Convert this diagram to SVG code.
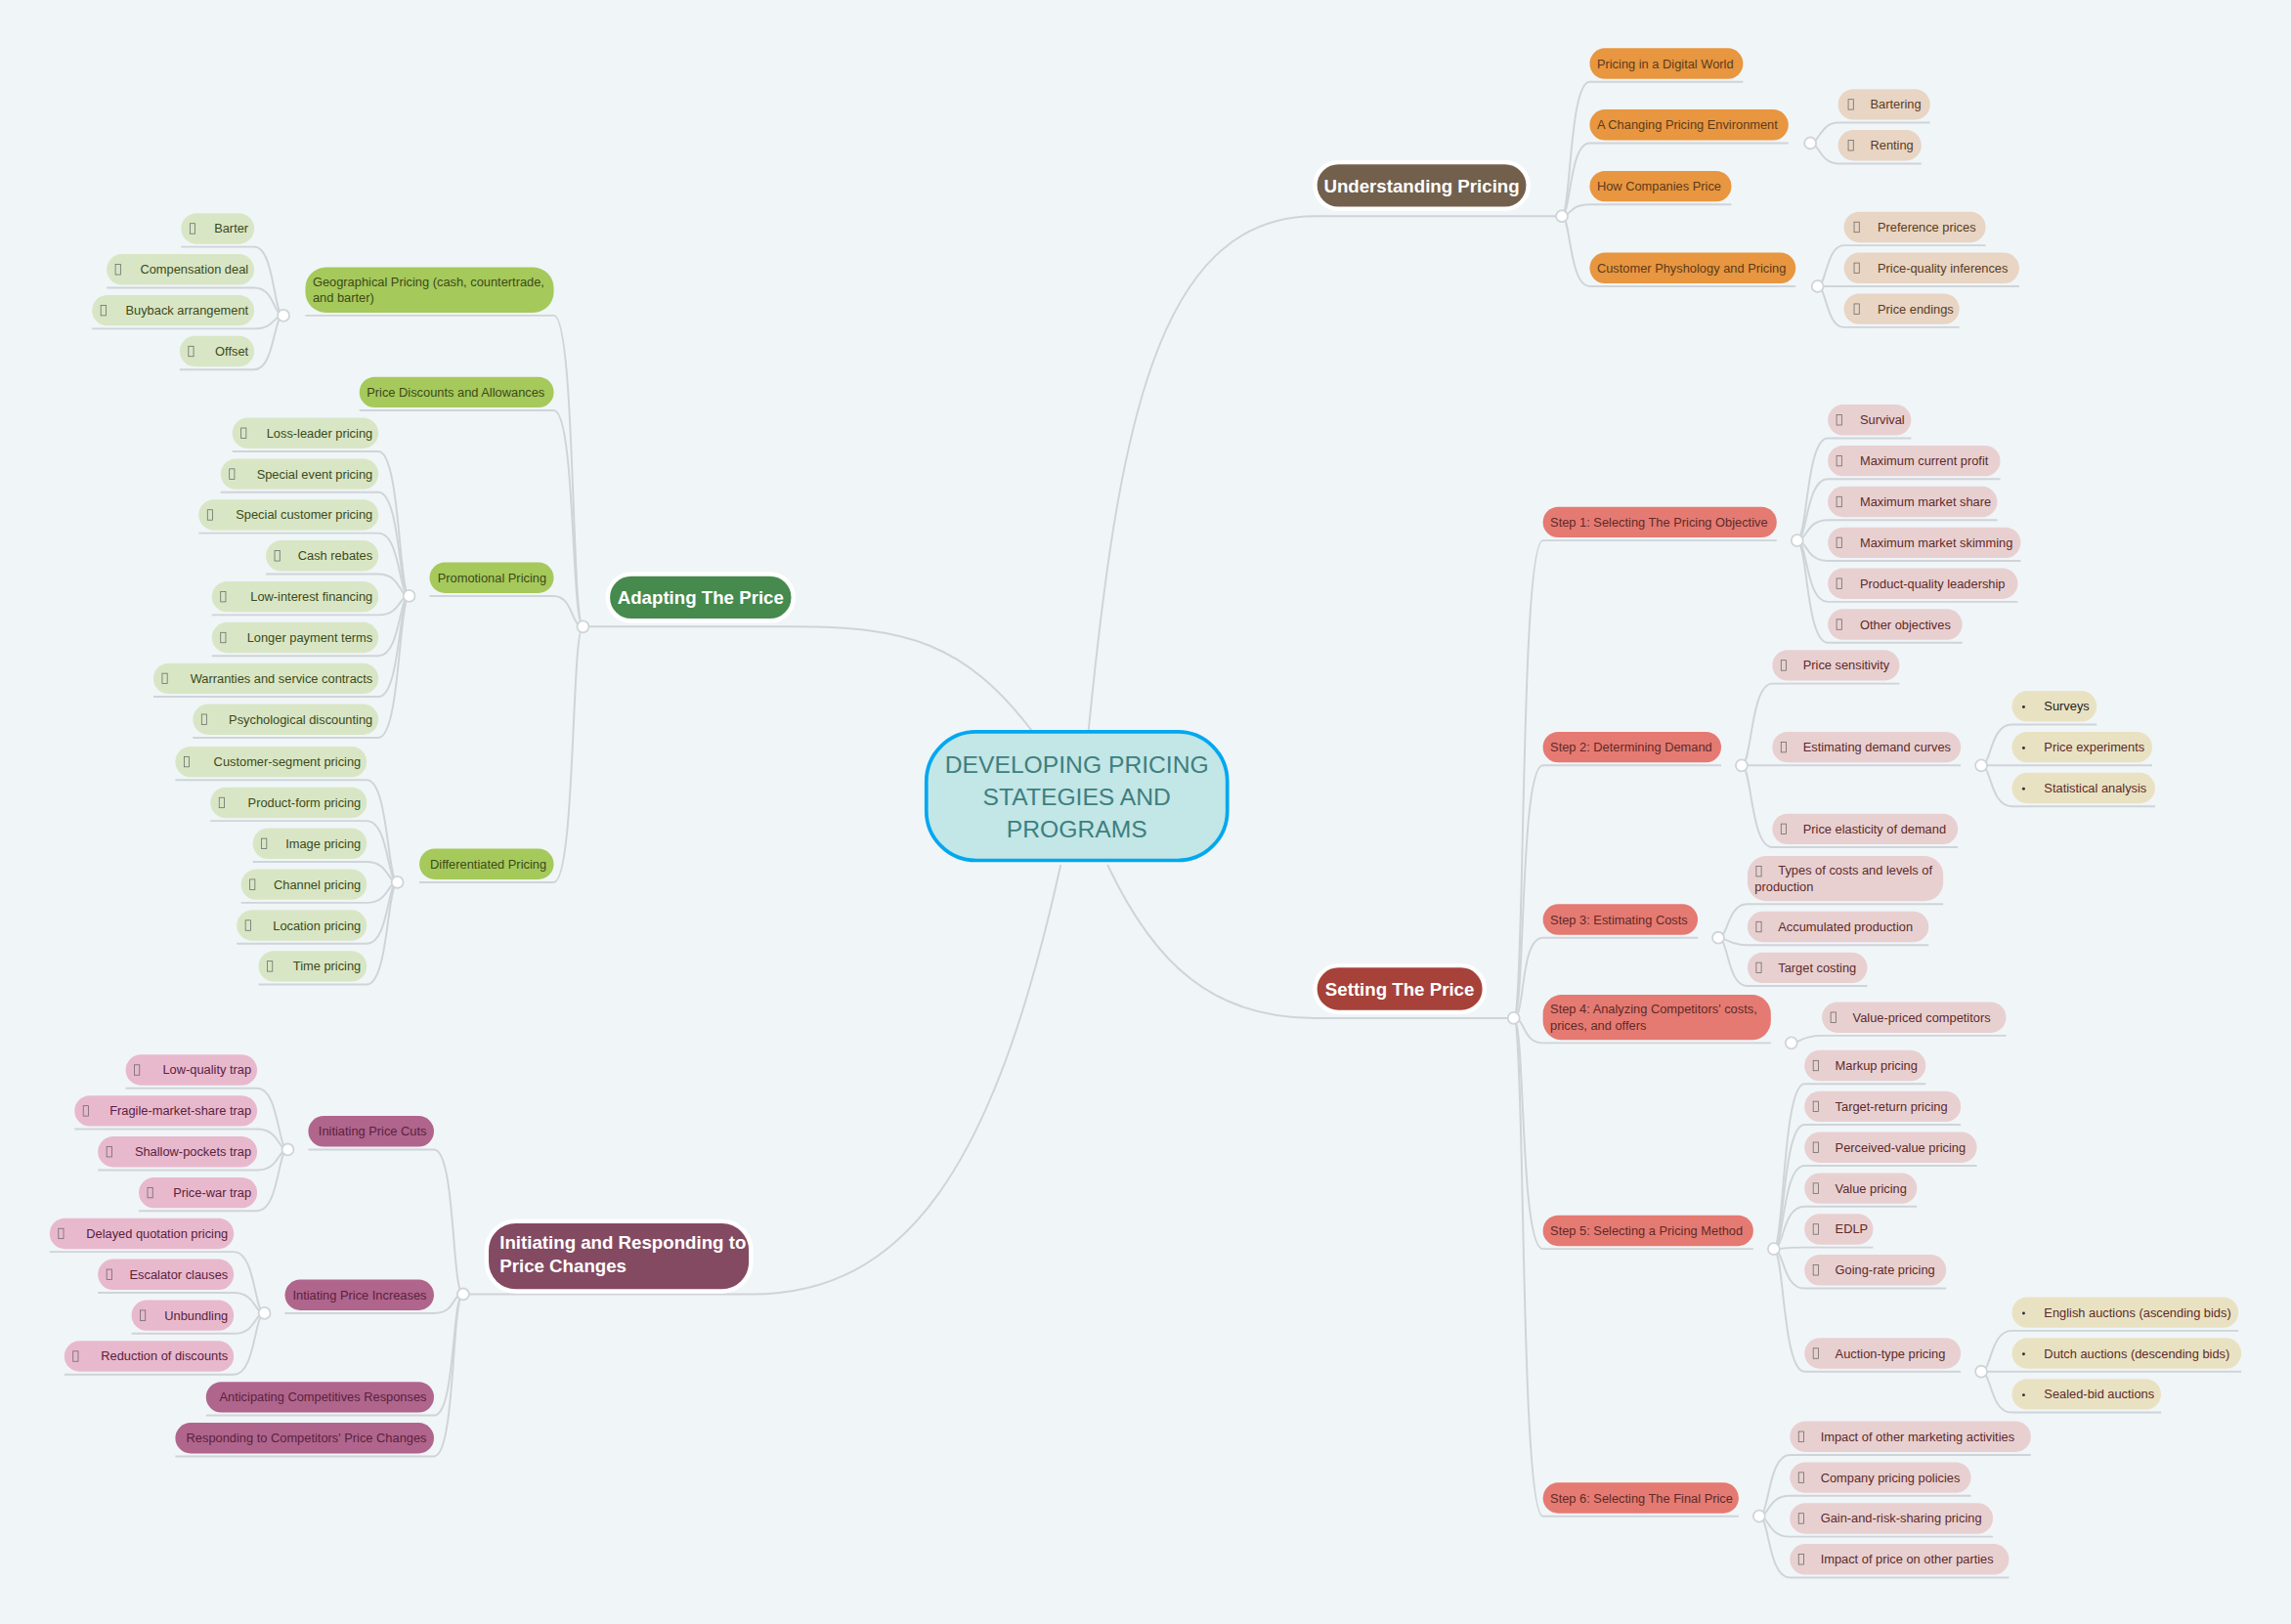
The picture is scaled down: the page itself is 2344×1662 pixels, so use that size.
<svg xmlns="http://www.w3.org/2000/svg" width="2344" height="1662" viewBox="0 0 2344 1662">
<style>
text{font-family:"Liberation Sans",Arial,sans-serif;font-size:8.6px}
.ln{fill:none;stroke:#cfd4d8;stroke-width:1.3}
.jc{fill:#fff;stroke:#cfd4d8;stroke-width:1.2}
.ic{fill:none;stroke:#666;stroke-width:0.5}
.m{font-size:12.5px;font-weight:bold;fill:#fff}
.o{fill:#e8963f}.ol{fill:#e8d5c4}.ot{fill:#5b3b1c}
.s{fill:#e57a72}.sl{fill:#e8d0d1}.st{fill:#5e2a28}.sy{fill:#e9e2c2}
.g{fill:#a6c95b}.gl{fill:#d9e6c5}.gt{fill:#3b4a18}
.p{fill:#b0658c}.pl{fill:#e8b9cd}.pt{fill:#5a2140}
</style>
<rect width="2344" height="1662" fill="#f0f5f8"/>
<g transform="scale(1.49490)">
<g id="connectors">
<path class="ln" d="M745,500 C765,300 790,148 900,148 L1069,148"/>
<path class="ln" d="M758,592 C790,660 830,697 900,697 L1036,697"/>
<path class="ln" d="M706,500 C660,440 620,429 543,429 L399,429"/>
<path class="ln" d="M726,592 C680,800 620,886 514,886 L317,886"/>
<g id="c-und">
<path class="ln" d="M1069,148 C1075,148 1074,56 1088,56 L1193,56"/>
<path class="ln" d="M1069,148 C1075,148 1074,98 1088,98 L1224,98"/>
<path class="ln" d="M1069,148 C1075,148 1074,140 1088,140 L1185,140"/>
<path class="ln" d="M1069,148 C1075,148 1074,196 1088,196 L1229,196"/>
<path class="ln" d="M1239,98 C1245,98 1246,84 1258,84 L1321,84"/>
<path class="ln" d="M1239,98 C1245,98 1246,112 1258,112 L1315,112"/>
<path class="ln" d="M1244,196 C1250,196 1250,168 1262,168 L1359,168"/>
<path class="ln" d="M1244,196 L1382,196"/>
<path class="ln" d="M1244,196 C1250,196 1250,224 1262,224 L1341,224"/>
</g>
<g id="c-set">
<path class="ln" d="M1036,697 C1044,697 1040,370 1056,370 L1216,370"/>
<path class="ln" d="M1036,697 C1044,697 1040,524 1056,524 L1178,524"/>
<path class="ln" d="M1036,697 C1044,697 1040,642 1056,642 L1162,642"/>
<path class="ln" d="M1036,697 C1044,697 1042,714 1056,714 L1212,714"/>
<path class="ln" d="M1036,697 C1044,697 1040,855 1056,855 L1200,855"/>
<path class="ln" d="M1036,697 C1044,697 1040,1038 1056,1038 L1190,1038"/>
<path class="ln" d="M1230,370 C1237,370 1236,300 1251,300 L1308,300"/>
<path class="ln" d="M1230,370 C1237,370 1236,328 1251,328 L1369,328"/>
<path class="ln" d="M1230,370 C1237,370 1236,356 1251,356 L1367,356"/>
<path class="ln" d="M1230,370 C1237,370 1236,384 1251,384 L1383,384"/>
<path class="ln" d="M1230,370 C1237,370 1236,412 1251,412 L1381,412"/>
<path class="ln" d="M1230,370 C1237,370 1236,440 1251,440 L1343,440"/>
<path class="ln" d="M1192,524 C1199,524 1198,468 1213,468 L1300,468"/>
<path class="ln" d="M1192,524 L1342,524"/>
<path class="ln" d="M1192,524 C1199,524 1198,580 1213,580 L1340,580"/>
<path class="ln" d="M1356,524 C1363,524 1362,496 1377,496 L1435,496"/>
<path class="ln" d="M1356,524 L1473,524"/>
<path class="ln" d="M1356,524 C1363,524 1362,552 1377,552 L1475,552"/>
<path class="ln" d="M1176,642 C1183,642 1182,619 1196,619 L1330,619"/>
<path class="ln" d="M1176,642 C1182,642 1183,647 1196,647 L1320,647"/>
<path class="ln" d="M1176,642 C1183,642 1182,675 1196,675 L1278,675"/>
<path class="ln" d="M1226,714 C1233,714 1232,709 1247,709 L1373,709"/>
<path class="ln" d="M1214,855 C1221,855 1220,742 1235,742 L1318,742"/>
<path class="ln" d="M1214,855 C1221,855 1220,770 1235,770 L1342,770"/>
<path class="ln" d="M1214,855 C1221,855 1220,798 1235,798 L1353,798"/>
<path class="ln" d="M1214,855 C1221,855 1220,826 1235,826 L1312,826"/>
<path class="ln" d="M1214,855 C1221,855 1220,854 1235,854 L1282,854"/>
<path class="ln" d="M1214,855 C1221,855 1220,882 1235,882 L1332,882"/>
<path class="ln" d="M1214,855 C1221,855 1220,939 1235,939 L1342,939"/>
<path class="ln" d="M1356,939 C1363,939 1362,911 1377,911 L1532,911"/>
<path class="ln" d="M1356,939 L1534,939"/>
<path class="ln" d="M1356,939 C1363,939 1362,967 1377,967 L1479,967"/>
<path class="ln" d="M1204,1038 C1211,1038 1210,996 1225,996 L1390,996"/>
<path class="ln" d="M1204,1038 C1211,1038 1210,1024 1225,1024 L1349,1024"/>
<path class="ln" d="M1204,1038 C1211,1038 1210,1052 1225,1052 L1364,1052"/>
<path class="ln" d="M1204,1038 C1211,1038 1210,1080 1225,1080 L1375,1080"/>
</g>
<g id="c-adapt">
<path class="ln" d="M399,429 C391,429 394,216 379,216 L209,216"/>
<path class="ln" d="M399,429 C391,429 394,281 379,281 L246,281"/>
<path class="ln" d="M399,429 C391,429 392,408 379,408 L294,408"/>
<path class="ln" d="M399,429 C391,429 394,604 379,604 L287,604"/>
<path class="ln" d="M194,216 C187,216 188,169 174,169 L124,169"/>
<path class="ln" d="M194,216 C187,216 188,197 174,197 L73,197"/>
<path class="ln" d="M194,216 C187,216 188,225 174,225 L63,225"/>
<path class="ln" d="M194,216 C187,216 188,253 174,253 L123,253"/>
<path class="ln" d="M280,408 C273,408 274,309 259,309 L159,309"/>
<path class="ln" d="M280,408 C273,408 274,337 259,337 L151,337"/>
<path class="ln" d="M280,408 C273,408 274,365 259,365 L136,365"/>
<path class="ln" d="M280,408 C273,408 274,393 259,393 L182,393"/>
<path class="ln" d="M280,408 C273,408 274,421 259,421 L145,421"/>
<path class="ln" d="M280,408 C273,408 274,449 259,449 L145,449"/>
<path class="ln" d="M280,408 C273,408 274,477 259,477 L105,477"/>
<path class="ln" d="M280,408 C273,408 274,505 259,505 L132,505"/>
<path class="ln" d="M272,604 C265,604 266,534 251,534 L120,534"/>
<path class="ln" d="M272,604 C265,604 266,562 251,562 L144,562"/>
<path class="ln" d="M272,604 C265,604 266,590 251,590 L173,590"/>
<path class="ln" d="M272,604 C265,604 266,618 251,618 L165,618"/>
<path class="ln" d="M272,604 C265,604 266,646 251,646 L162,646"/>
<path class="ln" d="M272,604 C265,604 266,674 251,674 L177,674"/>
</g>
<g id="c-init">
<path class="ln" d="M317,886 C309,886 312,787 297,787 L211,787"/>
<path class="ln" d="M317,886 C309,886 312,899 297,899 L195,899"/>
<path class="ln" d="M317,886 C309,886 312,969 297,969 L141,969"/>
<path class="ln" d="M317,886 C309,886 312,997 297,997 L120,997"/>
<path class="ln" d="M197,787 C190,787 191,745 176,745 L86,745"/>
<path class="ln" d="M197,787 C190,787 191,773 176,773 L51,773"/>
<path class="ln" d="M197,787 C190,787 191,801 176,801 L67,801"/>
<path class="ln" d="M197,787 C190,787 191,829 176,829 L95,829"/>
<path class="ln" d="M181,899 C174,899 175,857 160,857 L34,857"/>
<path class="ln" d="M181,899 C174,899 175,885 160,885 L67,885"/>
<path class="ln" d="M181,899 C174,899 175,913 160,913 L90,913"/>
<path class="ln" d="M181,899 C174,899 175,941 160,941 L44,941"/>
</g>
<g id="junctions">
<circle class="jc" cx="1069" cy="148" r="4"/><circle class="jc" cx="1239" cy="98" r="4"/><circle class="jc" cx="1244" cy="196" r="4"/>
<circle class="jc" cx="1036" cy="697" r="4"/><circle class="jc" cx="1230" cy="370" r="4"/><circle class="jc" cx="1192" cy="524" r="4"/><circle class="jc" cx="1356" cy="524" r="4"/><circle class="jc" cx="1176" cy="642" r="4"/><circle class="jc" cx="1226" cy="714" r="4"/><circle class="jc" cx="1214" cy="855" r="4"/><circle class="jc" cx="1356" cy="939" r="4"/><circle class="jc" cx="1204" cy="1038" r="4"/>
<circle class="jc" cx="399" cy="429" r="4"/><circle class="jc" cx="194" cy="216" r="4"/><circle class="jc" cx="280" cy="408" r="4"/><circle class="jc" cx="272" cy="604" r="4"/>
<circle class="jc" cx="317" cy="886" r="4"/><circle class="jc" cx="197" cy="787" r="4"/><circle class="jc" cx="181" cy="899" r="4"/>
</g>
</g>

<g id="center"><rect x="634" y="501" width="206" height="88" rx="34" fill="#c3e6e6" stroke="#00a8f0" stroke-width="2.5"/>
<text x="737" y="529" text-anchor="middle" style="font-size:16.5px" fill="#3d7f80">DEVELOPING PRICING</text>
<text x="737" y="551" text-anchor="middle" style="font-size:16.5px" fill="#3d7f80">STATEGIES AND</text>
<text x="737" y="573" text-anchor="middle" style="font-size:16.5px" fill="#3d7f80">PROGRAMS</text></g>

<g id="n-understanding"><rect x="900" y="111" width="146" height="32" rx="16" fill="#72604d" stroke="#fff" stroke-width="3"/><text class="m" x="973" y="131.5" text-anchor="middle">Understanding Pricing</text></g>
<g id="n-setting"><rect x="900" y="661" width="116" height="32" rx="16" fill="#a6423a" stroke="#fff" stroke-width="3"/><text class="m" x="958" y="681.5" text-anchor="middle">Setting The Price</text></g>
<g id="n-adapting"><rect x="416" y="393" width="127" height="32" rx="16" fill="#468a4e" stroke="#fff" stroke-width="3"/><text class="m" x="479.5" y="413.5" text-anchor="middle">Adapting The Price</text></g>
<g id="n-initiating"><rect x="333" y="836" width="181" height="48" rx="20" fill="#844a62" stroke="#fff" stroke-width="3"/><text class="m" x="342" y="855">Initiating and Responding to</text><text class="m" x="342" y="871">Price Changes</text></g>

<!-- Understanding children -->
<g id="u1"><rect class="o" x="1088" y="33" width="105" height="21" rx="10.5"/><text class="ot" x="1093" y="46.5">Pricing in a Digital World</text></g>
<g id="u2"><rect class="o" x="1088" y="75" width="136" height="21" rx="10.5"/><text class="ot" x="1093" y="88.5">A Changing Pricing Environment</text></g>
<g id="u3"><rect class="o" x="1088" y="117" width="97" height="21" rx="10.5"/><text class="ot" x="1093" y="130.5">How Companies Price</text></g>
<g id="u4"><rect class="o" x="1088" y="173" width="141" height="21" rx="10.5"/><text class="ot" x="1093" y="186.5">Customer Physhology and Pricing</text></g>
<g id="u2a"><rect class="ol" x="1258" y="61" width="63" height="21" rx="10.5"/><rect class="ic" x="1265" y="68" width="3.5" height="7"/><text class="ot" x="1280" y="74.5">Bartering</text></g>
<g id="u2b"><rect class="ol" x="1258" y="89" width="57" height="21" rx="10.5"/><rect class="ic" x="1265" y="96" width="3.5" height="7"/><text class="ot" x="1280" y="102.5">Renting</text></g>
<g id="u4a"><rect class="ol" x="1262" y="145" width="97" height="21" rx="10.5"/><rect class="ic" x="1269" y="152" width="3.5" height="7"/><text class="ot" x="1285" y="158.5">Preference prices</text></g>
<g id="u4b"><rect class="ol" x="1262" y="173" width="120" height="21" rx="10.5"/><rect class="ic" x="1269" y="180" width="3.5" height="7"/><text class="ot" x="1285" y="186.5">Price-quality inferences</text></g>
<g id="u4c"><rect class="ol" x="1262" y="201" width="79" height="21" rx="10.5"/><rect class="ic" x="1269" y="208" width="3.5" height="7"/><text class="ot" x="1285" y="214.5">Price endings</text></g>

<!-- Setting children -->
<g id="s1"><rect class="s" x="1056" y="347" width="160" height="21" rx="10.5"/><text class="st" x="1061" y="360.5">Step 1: Selecting The Pricing Objective</text></g>
<g id="s2"><rect class="s" x="1056" y="501" width="122" height="21" rx="10.5"/><text class="st" x="1061" y="514.5">Step 2: Determining Demand</text></g>
<g id="s3"><rect class="s" x="1056" y="619" width="106" height="21" rx="10.5"/><text class="st" x="1061" y="632.5">Step 3: Estimating Costs</text></g>
<g id="s4"><rect class="s" x="1056" y="681" width="156" height="31" rx="13"/><text class="st" x="1061" y="694">Step 4: Analyzing Competitors' costs,</text><text class="st" x="1061" y="705">prices, and offers</text></g>
<g id="s5"><rect class="s" x="1056" y="832" width="144" height="21" rx="10.5"/><text class="st" x="1061" y="845.5">Step 5: Selecting a Pricing Method</text></g>
<g id="s6"><rect class="s" x="1056" y="1015" width="134" height="21" rx="10.5"/><text class="st" x="1061" y="1028.5">Step 6: Selecting The Final Price</text></g>

<g id="s1a"><rect class="sl" x="1251" y="277" width="57" height="21" rx="10.5"/><rect class="ic" x="1257" y="284" width="3.5" height="7"/><text class="st" x="1273" y="290.5">Survival</text></g>
<g id="s1b"><rect class="sl" x="1251" y="305" width="118" height="21" rx="10.5"/><rect class="ic" x="1257" y="312" width="3.5" height="7"/><text class="st" x="1273" y="318.5">Maximum current profit</text></g>
<g id="s1c"><rect class="sl" x="1251" y="333" width="116" height="21" rx="10.5"/><rect class="ic" x="1257" y="340" width="3.5" height="7"/><text class="st" x="1273" y="346.5">Maximum market share</text></g>
<g id="s1d"><rect class="sl" x="1251" y="361" width="132" height="21" rx="10.5"/><rect class="ic" x="1257" y="368" width="3.5" height="7"/><text class="st" x="1273" y="374.5">Maximum market skimming</text></g>
<g id="s1e"><rect class="sl" x="1251" y="389" width="130" height="21" rx="10.5"/><rect class="ic" x="1257" y="396" width="3.5" height="7"/><text class="st" x="1273" y="402.5">Product-quality leadership</text></g>
<g id="s1f"><rect class="sl" x="1251" y="417" width="92" height="21" rx="10.5"/><rect class="ic" x="1257" y="424" width="3.5" height="7"/><text class="st" x="1273" y="430.5">Other objectives</text></g>

<g id="s2a"><rect class="sl" x="1213" y="445" width="87" height="21" rx="10.5"/><rect class="ic" x="1219" y="452" width="3.5" height="7"/><text class="st" x="1234" y="458.5">Price sensitivity</text></g>
<g id="s2b"><rect class="sl" x="1213" y="501" width="129" height="21" rx="10.5"/><rect class="ic" x="1219" y="508" width="3.5" height="7"/><text class="st" x="1234" y="514.5">Estimating demand curves</text></g>
<g id="s2c"><rect class="sl" x="1213" y="557" width="127" height="21" rx="10.5"/><rect class="ic" x="1219" y="564" width="3.5" height="7"/><text class="st" x="1234" y="570.5">Price elasticity of demand</text></g>
<g id="s2b1"><rect class="sy" x="1377" y="473" width="58" height="21" rx="10.5"/><circle cx="1385" cy="484" r="1" fill="#333"/><text x="1399" y="486.5" fill="#222">Surveys</text></g>
<g id="s2b2"><rect class="sy" x="1377" y="501" width="96" height="21" rx="10.5"/><circle cx="1385" cy="512" r="1" fill="#333"/><text class="st" x="1399" y="514.5">Price experiments</text></g>
<g id="s2b3"><rect class="sy" x="1377" y="529" width="98" height="21" rx="10.5"/><circle cx="1385" cy="540" r="1" fill="#333"/><text class="st" x="1399" y="542.5">Statistical analysis</text></g>

<g id="s3a"><rect class="sl" x="1196" y="586" width="134" height="31" rx="13"/><rect class="ic" x="1202" y="593" width="3.5" height="7"/><text class="st" x="1217" y="599">Types of costs and levels of</text><text class="st" x="1201" y="610">production</text></g>
<g id="s3b"><rect class="sl" x="1196" y="624" width="124" height="21" rx="10.5"/><rect class="ic" x="1202" y="631" width="3.5" height="7"/><text class="st" x="1217" y="637.5">Accumulated production</text></g>
<g id="s3c"><rect class="sl" x="1196" y="652" width="82" height="21" rx="10.5"/><rect class="ic" x="1202" y="659" width="3.5" height="7"/><text class="st" x="1217" y="665.5">Target costing</text></g>
<g id="s4a"><rect class="sl" x="1247" y="686" width="126" height="21" rx="10.5"/><rect class="ic" x="1253" y="693" width="3.5" height="7"/><text class="st" x="1268" y="699.5">Value-priced competitors</text></g>

<g id="s5a"><rect class="sl" x="1235" y="719" width="83" height="21" rx="10.5"/><rect class="ic" x="1241" y="726" width="3.5" height="7"/><text class="st" x="1256" y="732.5">Markup pricing</text></g>
<g id="s5b"><rect class="sl" x="1235" y="747" width="107" height="21" rx="10.5"/><rect class="ic" x="1241" y="754" width="3.5" height="7"/><text class="st" x="1256" y="760.5">Target-return pricing</text></g>
<g id="s5c"><rect class="sl" x="1235" y="775" width="118" height="21" rx="10.5"/><rect class="ic" x="1241" y="782" width="3.5" height="7"/><text class="st" x="1256" y="788.5">Perceived-value pricing</text></g>
<g id="s5d"><rect class="sl" x="1235" y="803" width="77" height="21" rx="10.5"/><rect class="ic" x="1241" y="810" width="3.5" height="7"/><text class="st" x="1256" y="816.5">Value pricing</text></g>
<g id="s5e"><rect class="sl" x="1235" y="831" width="47" height="21" rx="10.5"/><rect class="ic" x="1241" y="838" width="3.5" height="7"/><text class="st" x="1256" y="844.5">EDLP</text></g>
<g id="s5f"><rect class="sl" x="1235" y="859" width="97" height="21" rx="10.5"/><rect class="ic" x="1241" y="866" width="3.5" height="7"/><text class="st" x="1256" y="872.5">Going-rate pricing</text></g>
<g id="s5g"><rect class="sl" x="1235" y="916" width="107" height="21" rx="10.5"/><rect class="ic" x="1241" y="923" width="3.5" height="7"/><text class="st" x="1256" y="929.5">Auction-type pricing</text></g>
<g id="s5g1"><rect class="sy" x="1377" y="888" width="155" height="21" rx="10.5"/><circle cx="1385" cy="899" r="1" fill="#333"/><text class="st" x="1399" y="901.5">English auctions (ascending bids)</text></g>
<g id="s5g2"><rect class="sy" x="1377" y="916" width="157" height="21" rx="10.5"/><circle cx="1385" cy="927" r="1" fill="#333"/><text class="st" x="1399" y="929.5">Dutch auctions (descending bids)</text></g>
<g id="s5g3"><rect class="sy" x="1377" y="944" width="102" height="21" rx="10.5"/><circle cx="1385" cy="955" r="1" fill="#333"/><text class="st" x="1399" y="957.5">Sealed-bid auctions</text></g>

<g id="s6a"><rect class="sl" x="1225" y="973" width="165" height="21" rx="10.5"/><rect class="ic" x="1231" y="980" width="3.5" height="7"/><text class="st" x="1246" y="986.5">Impact of other marketing activities</text></g>
<g id="s6b"><rect class="sl" x="1225" y="1001" width="124" height="21" rx="10.5"/><rect class="ic" x="1231" y="1008" width="3.5" height="7"/><text class="st" x="1246" y="1014.5">Company pricing policies</text></g>
<g id="s6c"><rect class="sl" x="1225" y="1029" width="139" height="21" rx="10.5"/><rect class="ic" x="1231" y="1036" width="3.5" height="7"/><text class="st" x="1246" y="1042.5">Gain-and-risk-sharing pricing</text></g>
<g id="s6d"><rect class="sl" x="1225" y="1057" width="150" height="21" rx="10.5"/><rect class="ic" x="1231" y="1064" width="3.5" height="7"/><text class="st" x="1246" y="1070.5">Impact of price on other parties</text></g>

<!-- Adapting children -->
<g id="a1"><rect class="g" x="209" y="183" width="170" height="31" rx="14"/><text class="gt" x="214" y="196">Geographical Pricing (cash, countertrade,</text><text class="gt" x="214" y="207">and barter)</text></g>
<g id="a2"><rect class="g" x="246" y="258" width="133" height="21" rx="10.5"/><text class="gt" x="251" y="271.5">Price Discounts and Allowances</text></g>
<g id="a3"><rect class="g" x="294" y="385" width="85" height="21" rx="10.5"/><text class="gt" x="374" y="398.5" text-anchor="end">Promotional Pricing</text></g>
<g id="a4"><rect class="g" x="287" y="581" width="92" height="21" rx="10.5"/><text class="gt" x="374" y="594.5" text-anchor="end">Differentiated Pricing</text></g>

<g id="a1a"><rect class="gl" x="124" y="146" width="50" height="21" rx="10.5"/><rect class="ic" x="130" y="153" width="3.5" height="7"/><text class="gt" x="170" y="159.5" text-anchor="end">Barter</text></g>
<g id="a1b"><rect class="gl" x="73" y="174" width="101" height="21" rx="10.5"/><rect class="ic" x="79" y="181" width="3.5" height="7"/><text class="gt" x="170" y="187.5" text-anchor="end">Compensation deal</text></g>
<g id="a1c"><rect class="gl" x="63" y="202" width="111" height="21" rx="10.5"/><rect class="ic" x="69" y="209" width="3.5" height="7"/><text class="gt" x="170" y="215.5" text-anchor="end">Buyback arrangement</text></g>
<g id="a1d"><rect class="gl" x="123" y="230" width="51" height="21" rx="10.5"/><rect class="ic" x="129" y="237" width="3.5" height="7"/><text class="gt" x="170" y="243.5" text-anchor="end">Offset</text></g>

<g id="a3a"><rect class="gl" x="159" y="286" width="100" height="21" rx="10.5"/><rect class="ic" x="165" y="293" width="3.5" height="7"/><text class="gt" x="255" y="299.5" text-anchor="end">Loss-leader pricing</text></g>
<g id="a3b"><rect class="gl" x="151" y="314" width="108" height="21" rx="10.5"/><rect class="ic" x="157" y="321" width="3.5" height="7"/><text class="gt" x="255" y="327.5" text-anchor="end">Special event pricing</text></g>
<g id="a3c"><rect class="gl" x="136" y="342" width="123" height="21" rx="10.5"/><rect class="ic" x="142" y="349" width="3.5" height="7"/><text class="gt" x="255" y="355.5" text-anchor="end">Special customer pricing</text></g>
<g id="a3d"><rect class="gl" x="182" y="370" width="77" height="21" rx="10.5"/><rect class="ic" x="188" y="377" width="3.5" height="7"/><text class="gt" x="255" y="383.5" text-anchor="end">Cash rebates</text></g>
<g id="a3e"><rect class="gl" x="145" y="398" width="114" height="21" rx="10.5"/><rect class="ic" x="151" y="405" width="3.5" height="7"/><text class="gt" x="255" y="411.5" text-anchor="end">Low-interest financing</text></g>
<g id="a3f"><rect class="gl" x="145" y="426" width="114" height="21" rx="10.5"/><rect class="ic" x="151" y="433" width="3.5" height="7"/><text class="gt" x="255" y="439.5" text-anchor="end">Longer payment terms</text></g>
<g id="a3g"><rect class="gl" x="105" y="454" width="154" height="21" rx="10.5"/><rect class="ic" x="111" y="461" width="3.5" height="7"/><text class="gt" x="255" y="467.5" text-anchor="end">Warranties and service contracts</text></g>
<g id="a3h"><rect class="gl" x="132" y="482" width="127" height="21" rx="10.5"/><rect class="ic" x="138" y="489" width="3.5" height="7"/><text class="gt" x="255" y="495.5" text-anchor="end">Psychological discounting</text></g>

<g id="a4a"><rect class="gl" x="120" y="511" width="131" height="21" rx="10.5"/><rect class="ic" x="126" y="518" width="3.5" height="7"/><text class="gt" x="247" y="524.5" text-anchor="end">Customer-segment pricing</text></g>
<g id="a4b"><rect class="gl" x="144" y="539" width="107" height="21" rx="10.5"/><rect class="ic" x="150" y="546" width="3.5" height="7"/><text class="gt" x="247" y="552.5" text-anchor="end">Product-form pricing</text></g>
<g id="a4c"><rect class="gl" x="173" y="567" width="78" height="21" rx="10.5"/><rect class="ic" x="179" y="574" width="3.5" height="7"/><text class="gt" x="247" y="580.5" text-anchor="end">Image pricing</text></g>
<g id="a4d"><rect class="gl" x="165" y="595" width="86" height="21" rx="10.5"/><rect class="ic" x="171" y="602" width="3.5" height="7"/><text class="gt" x="247" y="608.5" text-anchor="end">Channel pricing</text></g>
<g id="a4e"><rect class="gl" x="162" y="623" width="89" height="21" rx="10.5"/><rect class="ic" x="168" y="630" width="3.5" height="7"/><text class="gt" x="247" y="636.5" text-anchor="end">Location pricing</text></g>
<g id="a4f"><rect class="gl" x="177" y="651" width="74" height="21" rx="10.5"/><rect class="ic" x="183" y="658" width="3.5" height="7"/><text class="gt" x="247" y="664.5" text-anchor="end">Time pricing</text></g>

<!-- Initiating children -->
<g id="i1"><rect class="p" x="211" y="764" width="86" height="21" rx="10.5"/><text class="pt" x="292" y="777.5" text-anchor="end">Initiating Price Cuts</text></g>
<g id="i2"><rect class="p" x="195" y="876" width="102" height="21" rx="10.5"/><text class="pt" x="292" y="889.5" text-anchor="end">Intiating Price Increases</text></g>
<g id="i3"><rect class="p" x="141" y="946" width="156" height="21" rx="10.5"/><text class="pt" x="292" y="959.5" text-anchor="end">Anticipating Competitives Responses</text></g>
<g id="i4"><rect class="p" x="120" y="974" width="177" height="21" rx="10.5"/><text class="pt" x="292" y="987.5" text-anchor="end">Responding to Competitors' Price Changes</text></g>

<g id="i1a"><rect class="pl" x="86" y="722" width="90" height="21" rx="10.5"/><rect class="ic" x="92" y="729" width="3.5" height="7"/><text class="pt" x="172" y="735.5" text-anchor="end">Low-quality trap</text></g>
<g id="i1b"><rect class="pl" x="51" y="750" width="125" height="21" rx="10.5"/><rect class="ic" x="57" y="757" width="3.5" height="7"/><text class="pt" x="172" y="763.5" text-anchor="end">Fragile-market-share trap</text></g>
<g id="i1c"><rect class="pl" x="67" y="778" width="109" height="21" rx="10.5"/><rect class="ic" x="73" y="785" width="3.5" height="7"/><text class="pt" x="172" y="791.5" text-anchor="end">Shallow-pockets trap</text></g>
<g id="i1d"><rect class="pl" x="95" y="806" width="81" height="21" rx="10.5"/><rect class="ic" x="101" y="813" width="3.5" height="7"/><text class="pt" x="172" y="819.5" text-anchor="end">Price-war trap</text></g>
<g id="i2a"><rect class="pl" x="34" y="834" width="126" height="21" rx="10.5"/><rect class="ic" x="40" y="841" width="3.5" height="7"/><text class="pt" x="156" y="847.5" text-anchor="end">Delayed quotation pricing</text></g>
<g id="i2b"><rect class="pl" x="67" y="862" width="93" height="21" rx="10.5"/><rect class="ic" x="73" y="869" width="3.5" height="7"/><text class="pt" x="156" y="875.5" text-anchor="end">Escalator clauses</text></g>
<g id="i2c"><rect class="pl" x="90" y="890" width="70" height="21" rx="10.5"/><rect class="ic" x="96" y="897" width="3.5" height="7"/><text class="pt" x="156" y="903.5" text-anchor="end">Unbundling</text></g>
<g id="i2d"><rect class="pl" x="44" y="918" width="116" height="21" rx="10.5"/><rect class="ic" x="50" y="925" width="3.5" height="7"/><text class="pt" x="156" y="931.5" text-anchor="end">Reduction of discounts</text></g>
</g>
</svg>
